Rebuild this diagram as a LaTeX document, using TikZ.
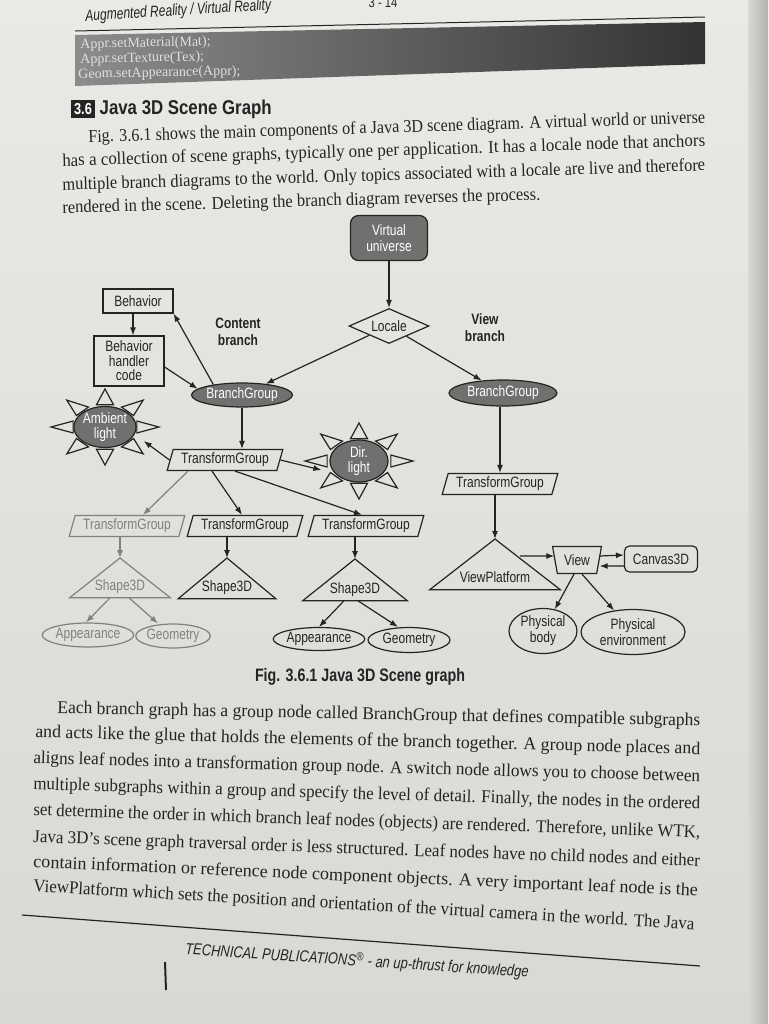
\documentclass[tikz,border=0pt]{standalone}
\usepackage{fontspec}
\usepackage{graphicx}
\setmainfont{Liberation Serif}
\newfontfamily\diagfont[FakeStretch=0.8]{Liberation Sans}
\usetikzlibrary{arrows.meta,positioning,shapes.geometric,calc}
\definecolor{pagetop}{RGB}{233,233,229}
\definecolor{pagebot}{RGB}{216,216,213}
\definecolor{pageedge}{RGB}{178,178,175}
\definecolor{ink}{RGB}{36,36,36}
\definecolor{fadeink}{RGB}{128,128,128}
\definecolor{mottle}{RGB}{112,112,110}
\newcommand\fitline[2]{\resizebox{#1}{\height}{#2}}

\begin{document}
\begin{tikzpicture}[x=0.5pt,y=-0.5pt,>={Latex[length=4pt,width=3pt]},
  lbl/.style={font=\diagfont\fontsize{7.5}{8}\selectfont,text=ink,align=center},
  blbl/.style={lbl,font=\diagfont\bfseries\fontsize{7.5}{8.5}\selectfont},
  box/.style={lbl,draw=ink,line width=0.6pt,inner sep=1pt},
  rbox/.style={box,rounded corners=2.5pt},
  oval/.style={box,ellipse,inner sep=0pt},
  darkoval/.style={oval,fill=mottle,text=white},
  tgroup/.style={box,trapezium,trapezium left angle=70,trapezium right angle=110,
    trapezium stretches=true,minimum width=58pt,minimum height=10.5pt,inner sep=0pt},
  shapetri/.style={lbl,inner sep=0pt,anchor=north,text depth=3.5pt},
  trishape/.style={draw=ink,line width=0.6pt,line join=miter},
  faded/.style={draw=fadeink,text=fadeink},
  arr/.style={->,line width=0.6pt,draw=ink},
  ray/.style={draw=ink,line width=0.6pt,line join=miter},
  bodyline/.style={anchor=west,inner sep=0pt,text=ink,font=\fontsize{9}{10}\selectfont}]

% page
\useasboundingbox (0,0) rectangle (768,1024);
\shade[top color=pagetop,bottom color=pagebot] (0,0) rectangle (768,1024);
\shade[left color=pagebot,right color=pageedge] (748,0) rectangle (768,1024);

% running head and code listing
\node[anchor=west,inner sep=0pt,text=ink,rotate=3.5,font=\diagfont\itshape\fontsize{8}{9}\selectfont]
  (head) at (85,17) {\fitline{93pt}{Augmented Reality / Virtual Reality}};
\node[inner sep=0pt,text=ink,font=\diagfont\fontsize{7}{8}\selectfont] (pageno) at (383,3) {3 - 14};
\draw[ink,line width=0.5pt] (75,31) -- (705,17);
\shade[left color=black!45,right color=black!80] (75,35) -- (705,22) -- (705,64) -- (75,86) -- cycle;
\node[anchor=west,inner sep=0pt,text=black!12,rotate=1.2,font=\fontsize{7}{8}\selectfont]
  (code1) at (80,45) {Appr.setMaterial(Mat);};
\node[anchor=west,inner sep=0pt,text=black!12,rotate=1.2,font=\fontsize{7}{8}\selectfont]
  (code2) at (80,60) {Appr.setTexture(Tex);};
\node[anchor=west,inner sep=0pt,text=black!12,rotate=1.2,font=\fontsize{7}{8}\selectfont]
  (code3) at (78,75) {Geom.setAppearance(Appr);};

% section heading
\node[fill=ink,text=white,inner sep=1.5pt,font=\diagfont\bfseries\fontsize{8}{9}\selectfont]
  (secn) at (83,109) {3.6};
\node[right=2pt of secn,inner sep=0pt,text=ink,font=\diagfont\bfseries\fontsize{10}{11}\selectfont]
  (sech) {\fitline{86pt}{Java 3D Scene Graph}};

% first paragraph
\node[bodyline,rotate=1.8] (p1) at (88,138)
  {\fitline{308.5pt}{Fig. 3.6.1 shows the main components of a Java 3D scene diagram. A virtual world or universe}};
\node[bodyline,rotate=1.8] (p2) at (62,162)
  {\fitline{321.5pt}{has a collection of scene graphs, typically one per application. It has a locale node that anchors}};
\node[bodyline,rotate=1.75] (p3) at (62,186)
  {\fitline{321.5pt}{multiple branch diagrams to the world. Only topics associated with a locale are live and therefore}};
\node[bodyline,rotate=1.6] (p4) at (62,209)
  {\fitline{239pt}{rendered in the scene. Deleting the branch diagram reverses the process.}};

% scene graph
\node[rbox,fill=mottle,text=white,minimum width=38.5pt,minimum height=22.5pt,rounded corners=4pt]
  (vu) at (389,238) {Virtual\\universe};
\node[box,diamond,aspect=2.3,minimum width=40pt,minimum height=17.5pt,inner sep=0pt]
  (loc) at (389,326) {Locale};
\node[blbl] (cbr) at (238,332) {Content\\branch};
\node[blbl] (vbr) at (485,328) {View\\branch};
\node[box,minimum width=35pt,minimum height=12pt] (beh) at (138,301) {Behavior};
\node[box,minimum width=35pt,minimum height=25pt,inner sep=0.5pt,
  font=\diagfont\fontsize{7.5}{7.3}\selectfont] (bhc) at (129,361) {Behavior\\handler\\code};
\node[darkoval,minimum width=49.5pt,minimum height=12pt] (bgc) at (242,395) {BranchGroup};
\node[darkoval,minimum width=54pt,minimum height=13pt] (bgv) at (503,393) {BranchGroup};
\node[darkoval,minimum width=28pt,minimum height=19pt,font=\diagfont\fontsize{7.5}{7.5}\selectfont]
  (amb) at (105,427) {Ambient\\light};
\node[darkoval,minimum width=29pt,minimum height=21pt,font=\diagfont\fontsize{7.5}{7.5}\selectfont]
  (dir) at (359,461) {Dir.\\light};
\foreach \lt in {amb,dir}
  \foreach \a in {0,45,...,315}
    \draw[ray] ($(\lt)+(\a-15:33 and 23)$) -- ($(\lt)+(\a:54 and 38)$)
      -- ($(\lt)+(\a+15:33 and 23)$) -- cycle;
\node[tgroup] (tgc) at (225,460) {TransformGroup};
\node[tgroup] (tgv) at (500,484) {TransformGroup};
\node[tgroup,faded] (tg1) at (127,526) {TransformGroup};
\node[tgroup] (tg2) at (245,526) {TransformGroup};
\node[tgroup] (tg3) at (366,526) {TransformGroup};
\node[shapetri,text=fadeink,minimum width=50pt,text height=16pt] (s1) at (120,558) {Shape3D};
\node[shapetri,minimum width=48.5pt,text height=16.5pt] (s2) at (227,558) {Shape3D};
\node[shapetri,minimum width=52pt,text height=17pt] (s3) at (355,559) {Shape3D};
\node[shapetri,minimum width=65pt,text height=21.5pt] (vp) at (495,539) {ViewPlatform};
\draw[trishape,draw=fadeink] (s1.south west) -- (s1.north) -- (s1.south east) -- cycle;
\foreach \t in {s2,s3,vp}
  \draw[trishape] (\t.south west) -- (\t.north) -- (\t.south east) -- cycle;
\node[box,trapezium,trapezium left angle=74,trapezium right angle=74,shape border rotate=180,
  trapezium stretches=true,minimum width=24.5pt,minimum height=13.5pt,inner sep=0pt]
  (vw) at (577,560) {View};
\node[rbox,minimum width=36.5pt,minimum height=13pt] (cv) at (661,559) {Canvas3D};
\node[oval,minimum width=34pt,minimum height=22.5pt] (pb) at (543,631) {Physical\\body};
\node[oval,minimum width=52pt,minimum height=22.5pt] (pe) at (633,632) {Physical\\environment};
\node[oval,faded,minimum width=41.5pt,minimum height=12pt] (a1) at (88,635) {Appearance};
\node[oval,faded,minimum width=36.5pt,minimum height=12pt] (g1) at (173,636) {Geometry};
\node[oval,minimum width=43.5pt,minimum height=11.5pt] (a2) at (319,639) {Appearance};
\node[oval,minimum width=41pt,minimum height=12.5pt] (g2) at (409,640) {Geometry};

\draw[arr] (vu) -- (loc);
\draw[arr] (loc) -- (bgc);
\draw[arr] (loc) -- (bgv);
\draw[arr] (bgc.160) -- (beh.south east);
\draw[arr] ([xshift=-2.5pt]beh.south) -- ([xshift=2pt]bhc.north);
\draw[arr] ([yshift=-3pt]bhc.east) -- (bgc.172);
\draw[arr] (bgc.south) -- (bgc.south |- tgc.north);
\draw[arr] (tgc.west) -- ([xshift=3.5pt,yshift=-7pt]amb.east);
\draw[arr] (tgc.east) -- ([xshift=-4pt,yshift=-4.5pt]dir.west);
\draw[arr,draw=fadeink] ([xshift=-18.5pt]tgc.south) -- ([xshift=8pt]tg1.north);
\draw[arr] ([xshift=-6.5pt]tgc.south) -- ([xshift=-1.5pt]tg2.north);
\draw[arr] ([xshift=5pt]tgc.south) -- ([xshift=-2pt]tg3.north);
\draw[arr,draw=fadeink] (tg1.south -| s1.north) -- (s1.north);
\draw[arr] (tg2.south -| s2.north) -- (s2.north);
\draw[arr] (tg3.south -| s3.north) -- (s3.north);
\draw[arr,draw=fadeink] ([xshift=-5pt]s1.south) -- ([xshift=-1pt]a1.north);
\draw[arr,draw=fadeink] ([xshift=4.5pt]s1.south) -- ([xshift=-7.5pt]g1.north);
\draw[arr] ([xshift=-5.5pt]s3.south) -- (a2.north);
\draw[arr] ([xshift=1.5pt]s3.south) -- ([xshift=-5.5pt]g2.north);
\draw[arr] (bgv.south -| tgv.north) -- (tgv.north);
\draw[arr] (tgv.south -| vp.north) -- (vp.north);
\draw[arr] ([xshift=12.5pt,yshift=-8.5pt]vp.north) -- ([yshift=2pt]vw.west);
\draw[arr] ([yshift=2pt]vw.east) -- ([yshift=2pt]cv.west);
\draw[arr] ([yshift=-3.5pt]cv.west) -- ([yshift=-3pt]vw.east);
\draw[arr] ([xshift=-1.5pt]vw.south) -- (pb);
\draw[arr] ([xshift=2.5pt]vw.south) -- (pe);

\node[inner sep=0pt,text=ink,font=\diagfont\bfseries\fontsize{9}{10}\selectfont]
  (cap) at (360,677) {\fitline{105pt}{Fig. 3.6.1 Java 3D Scene graph}};

% second paragraph
\node[bodyline,rotate=-1.1] (q1) at (57,709)
  {\fitline{321.5pt}{Each branch graph has a group node called BranchGroup that defines compatible subgraphs}};
\node[bodyline,rotate=-1.45] (q2) at (35,733)
  {\fitline{332.5pt}{and acts like the glue that holds the elements of the branch together. A group node places and}};
\node[bodyline,rotate=-1.55] (q3) at (33,759)
  {\fitline{333.5pt}{aligns leaf nodes into a transformation group node. A switch node allows you to choose between}};
\node[bodyline,rotate=-1.7] (q4) at (33,785)
  {\fitline{333.5pt}{multiple subgraphs within a group and specify the level of detail. Finally, the nodes in the ordered}};
\node[bodyline,rotate=-1.9] (q5) at (33,811)
  {\fitline{333.5pt}{set determine the order in which branch leaf nodes (objects) are rendered. Therefore, unlike WTK,}};
\node[bodyline,rotate=-2.05] (q6) at (33,838)
  {\fitline{333.5pt}{Java 3D's scene graph traversal order is less structured. Leaf nodes have no child nodes and either}};
\node[bodyline,rotate=-2.45] (q7) at (33,863)
  {\fitline{332.5pt}{contain information or reference node component objects. A very important leaf node is the}};
\node[bodyline,rotate=-3.3] (q8) at (33,887)
  {\fitline{331pt}{ViewPlatform which sets the position and orientation of the virtual camera in the world. The Java}};

% foot
\draw[ink,line width=0.6pt] (22,915) -- (700,966);
\node[anchor=west,inner sep=0pt,text=ink,rotate=-3.8,font=\diagfont\itshape\fontsize{8}{9}\selectfont]
  (foot) at (185,949) {\fitline{172pt}{TECHNICAL PUBLICATIONS\textsuperscript{®} - an up-thrust for knowledge}};
\draw[ink,line width=1pt] (165,962) -- (166,990);
\end{tikzpicture}
\end{document}
